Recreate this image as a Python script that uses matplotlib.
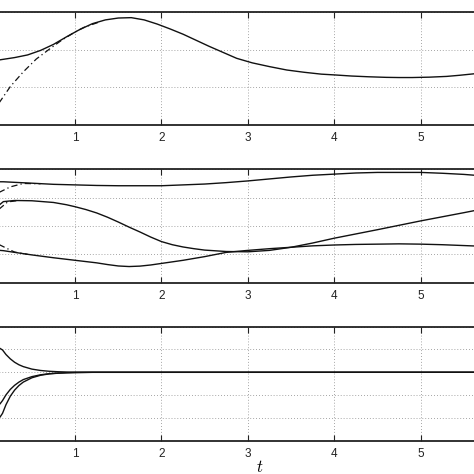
import numpy as np
import matplotlib.pyplot as plt

plt.rcParams['mathtext.fontset'] = 'cm'
plt.rcParams['font.family'] = ['Liberation Sans', 'DejaVu Sans']

# ---- top panel ----
t_top = [0, 0.13, 0.3, 0.45, 0.6, 0.75, 0.9, 1.05, 1.2, 1.35, 1.5, 1.65, 1.8, 1.95,
         2.1, 2.25, 2.4, 2.55, 2.7, 2.87, 3.05, 3.25, 3.45, 3.65, 3.85, 4.0, 4.2,
         4.4, 4.6, 4.75, 4.9, 5.1, 5.3, 5.45, 5.62, 5.8, 6.0]
top_solid = [1.65, 1.73, 1.79, 1.86, 1.98, 2.14, 2.34, 2.53, 2.69, 2.79, 2.84, 2.85,
             2.79, 2.68, 2.55, 2.41, 2.25, 2.09, 1.94, 1.77, 1.65, 1.55, 1.46, 1.40,
             1.35, 1.33, 1.30, 1.28, 1.265, 1.26, 1.26, 1.27, 1.29, 1.32, 1.36, 1.41, 1.46]
t_top_dd = [0, 0.13, 0.25, 0.4, 0.55, 0.7, 0.85, 1.0, 1.1, 1.3]
top_dd = [0.2, 0.62, 1.02, 1.41, 1.75, 2.01, 2.26, 2.47, 2.59, 2.75]

# ---- middle panel ----
t_mid = [0, 0.13, 0.17, 0.3, 0.5, 0.75, 1.0, 1.25, 1.5, 1.75, 2.0, 2.25, 2.5, 2.75,
         3.0, 3.25, 3.5, 3.75, 4.0, 4.25, 4.5, 4.75, 5.0, 5.25, 5.5, 5.75, 6.0]
mid_a = [3.58, 3.56, 3.56, 3.54, 3.51, 3.47, 3.45, 3.43, 3.42, 3.42, 3.42, 3.45, 3.48,
         3.53, 3.59, 3.66, 3.73, 3.79, 3.83, 3.87, 3.89, 3.89, 3.89, 3.86, 3.82, 3.76, 3.71]
t_c = [0, 0.13, 0.17, 0.3, 0.5, 0.75, 1.0, 1.25, 1.375, 1.5, 1.625, 1.75, 1.875, 2.0,
       2.25, 2.5, 2.75, 3.0, 3.25, 3.5, 3.75, 4.0, 4.25, 4.5, 4.75, 5.0, 5.25, 5.5,
       5.75, 6.0]
mid_c = [1.19, 1.14, 1.13, 1.07, 0.98, 0.88, 0.79, 0.70, 0.64, 0.59, 0.57, 0.585,
         0.625, 0.68, 0.79, 0.92, 1.07, 1.14, 1.20, 1.25, 1.30, 1.33, 1.35, 1.36, 1.37,
         1.36, 1.34, 1.31, 1.28, 1.24]
t_b = [0, 0.13, 0.17, 0.3, 0.5, 0.75, 0.9, 1.0, 1.125, 1.25, 1.375, 1.5, 1.625, 1.75,
       1.875, 2.0, 2.125, 2.25, 2.375, 2.5, 2.75, 3.0, 3.25, 3.5, 3.75, 4.0, 4.5, 5.0,
       5.5, 6.0]
mid_b = [2.42, 2.76, 2.86, 2.90, 2.89, 2.83, 2.75, 2.68, 2.58, 2.46, 2.31, 2.14, 1.96,
         1.79, 1.61, 1.45, 1.34, 1.26, 1.20, 1.15, 1.10, 1.09, 1.14, 1.25, 1.40, 1.57,
         1.87, 2.18, 2.47, 2.77]
t_a_dd = [0, 0.13, 0.25, 0.4, 0.6]
mid_a_dd = [3.00, 3.20, 3.38, 3.50, 3.49]
t_b_dd = [0, 0.13, 0.22, 0.35]
mid_b_dd = [2.30, 2.62, 2.85, 2.90]
t_c_dd = [0, 0.13, 0.21, 0.3, 0.45]
mid_c_dd = [1.55, 1.33, 1.21, 1.08, 1.00]

# ---- bottom panel ----
t_bot = [0, 0.13, 0.16, 0.2, 0.25, 0.3, 0.35, 0.4, 0.5, 0.6, 0.7, 0.8, 0.9, 1.0, 1.2, 6.0]
bot_u = [1.20, 1.05, 0.98, 0.78, 0.59, 0.44, 0.33, 0.25, 0.14, 0.08, 0.045, 0.025, 0.013,
         0.006, 0.0, 0.0]
bot_m = [-1.50, -1.39, -1.24, -0.99, -0.75, -0.57, -0.43, -0.32, -0.19, -0.11, -0.06,
         -0.035, -0.02, -0.01, 0.0, 0.0]
bot_l = [-2.10, -1.97, -1.80, -1.42, -1.05, -0.78, -0.58, -0.43, -0.24, -0.13, -0.07,
         -0.04, -0.02, -0.01, -0.002, 0.0]

xticks = [0, 1, 2, 3, 4, 5, 6]

W = 474.0
fig = plt.figure(figsize=(4.74, 4.74), dpi=100)


def make_ax(top_px, bot_px, ylim, yticks):
    # the axes run past both sides of the picture, as in the cropped original
    left = -11.3 / W
    width = 518.4 / W
    ax = fig.add_axes([left, (W - bot_px) / W, width, (bot_px - top_px) / W])
    ax.set_xlim(0, 6)
    ax.set_ylim(*ylim)
    ax.set_xticks(xticks)
    ax.set_yticks(yticks)
    ax.tick_params(direction='in', top=True, right=True, length=4, width=0.8,
                   labelsize=8.5, pad=5, colors='#222222')
    ax.grid(True, linestyle=(0, (1, 2.5)), color='#888888', linewidth=0.6)
    for s in ax.spines.values():
        s.set_linewidth(1.3)
        s.set_color('#222222')
    return ax


dd = (0, (5, 2.5, 1, 2.5))
lc = '#111111'

ax1 = make_ax(12, 125, (0, 3), [0, 1, 2, 3])
ax1.plot(t_top, top_solid, color=lc, lw=1.0)
ax1.plot(t_top_dd, top_dd, color=lc, lw=0.9, linestyle=dd)

ax2 = make_ax(169.3, 282.7, (0, 4), [0, 1, 2, 3, 4])
ax2.plot(t_mid, mid_a, color=lc, lw=1.0)
ax2.plot(t_b, mid_b, color=lc, lw=1.0)
ax2.plot(t_c, mid_c, color=lc, lw=1.0)
ax2.plot(t_a_dd, mid_a_dd, color=lc, lw=0.9, linestyle=dd)
ax2.plot(t_b_dd, mid_b_dd, color=lc, lw=0.9, linestyle=dd)
ax2.plot(t_c_dd, mid_c_dd, color=lc, lw=0.9, linestyle=dd)

ax3 = make_ax(326.7, 440.7, (-3, 2), [-3, -2, -1, 0, 1, 2])
ax3.plot(t_bot, bot_u, color=lc, lw=1.0)
ax3.plot(t_bot, bot_m, color=lc, lw=1.0)
ax3.plot(t_bot, bot_l, color=lc, lw=1.0)

fig.text(259.5 / W, 1 - 466.5 / W, r'$t$', fontsize=12, ha='center', va='center')

fig.savefig('out.png', dpi=100)
plt.close(fig)
